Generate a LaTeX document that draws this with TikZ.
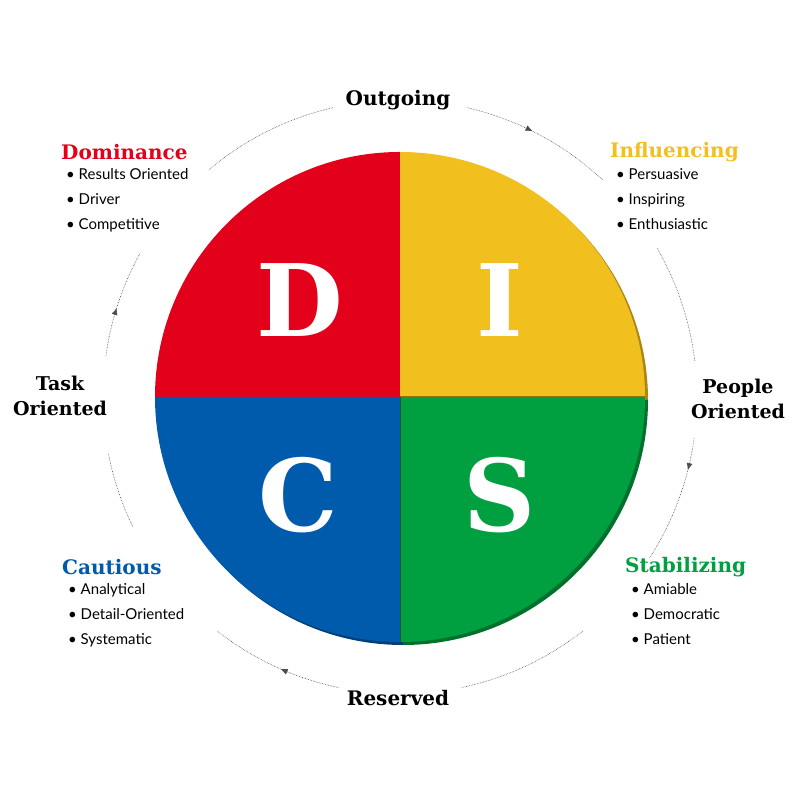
\documentclass[tikz,border=0pt]{standalone}
\usepackage{fontspec}
\setmainfont{Lato}
\newfontfamily\slab{DejaVu Serif}
\usetikzlibrary{decorations.markings,arrows.meta,calc}
\definecolor{cD}{HTML}{E2001A}\definecolor{cI}{HTML}{F2C01E}
\definecolor{cS}{HTML}{00A040}\definecolor{cC}{HTML}{005BAC}
\tikzset{
 head/.style={font=\slab\bfseries\fontsize{20}{24}\selectfont,inner sep=0pt},
 lst/.style={font=\fontsize{15}{25}\selectfont,align=left,inner sep=0pt,anchor=north west},
 big/.style={font=\slab\bfseries\fontsize{100}{100}\selectfont,text=white,inner sep=0pt},
 dotarc/.style={densely dotted,line width=0.6pt,gray!60!black},
 arr/.style={dotarc,postaction={decorate},decoration={markings,mark=at position #1 with {\arrow{Latex[length=7pt,width=6pt]}}}}
}
\begin{document}
\begin{tikzpicture}[x=1pt,y=1pt]
\useasboundingbox (0,0) rectangle (800,800);
\coordinate (O) at (400,403);
% shadow
\fill[cI!70!black] ($(O)+(3,-3)$) -- +(0,245) arc (90:0:245) -- cycle;
\fill[cS!70!black] ($(O)+(3,-3)$) -- +(245,0) arc (0:-90:245) -- cycle;
\fill[cC!70!black] ($(O)+(3,-3)$) -- +(0,-245) arc (-90:-180:245) -- cycle;
\fill[cD!70!black] ($(O)+(3,-3)$) -- +(-245,0) arc (180:90:245) -- cycle;
\fill[cD] (O) -- +(-245,0) arc (180:90:245) -- cycle;
\fill[cI] (O) -- +(0,245) arc (90:0:245) -- cycle;
\fill[cS] (O) -- +(245,0) arc (0:-90:245) -- cycle;
\fill[cC] (O) -- +(0,-245) arc (-90:-180:245) -- cycle;
\draw[cI!60!black,line width=1pt] (O) -- +(245,0);
\draw[cS!60!black,line width=0.8pt] (O) -- +(0,-245);
\node[big] (D) at (300,500) {D};
\node[big] (I) at (500,500) {I};
\node[big] (C) at (298,305) {C};
\node[big] (S) at (500,305) {S};
% dotted arcs (radius 297)
\draw[arr=0.45] ($(O)+(77:297)$) arc (77:47:297);
\draw[dotarc] ($(O)+(30:297)$) arc (30:7:297);
\draw[arr=0.25] ($(O)+(-8:297)$) arc (-8:-33:297);
\draw[dotarc] ($(O)+(-52:297)$) arc (-52:-78:297);
\draw[arr=0.45] ($(O)+(-102:297)$) arc (-102:-128:297);
\draw[dotarc] ($(O)+(206:297)$) arc (206:191:297);
\draw[arr=0.45] ($(O)+(172:297)$) arc (172:151:297);
\draw[dotarc] ($(O)+(130:297)$) arc (130:103:297);
% labels
\node[head] (out) at (398,700) {Outgoing};
\node[head] (res) at (398,102) {Reserved};
\node[head,align=center,font=\slab\bfseries\fontsize{19}{25}\selectfont] (task) at (60,404) {Task\\Oriented};
\node[head,align=center,font=\slab\bfseries\fontsize{19}{25}\selectfont] (ppl) at (738,401) {People\\Oriented};
\node[head,anchor=west,text=cD] (dom) at (61,648) {Dominance};
\node[lst] (domL) at (66,632) {• Results Oriented\\• Driver\\• Competitive};
\node[head,anchor=west,text=cI] (inf) at (610,648) {Influencing};
\node[lst] (infL) at (616,632) {• Persuasive\\• Inspiring\\• Enthusiastic};
\node[head,anchor=west,text=cC] (cau) at (62,233) {Cautious};
\node[lst] (cauL) at (68,217) {• Analytical\\• Detail-Oriented\\• Systematic};
\node[head,anchor=west,text=cS] (sta) at (625,233) {Stabilizing};
\node[lst] (staL) at (631,217) {• Amiable\\• Democratic\\• Patient};
\end{tikzpicture}
\end{document}
